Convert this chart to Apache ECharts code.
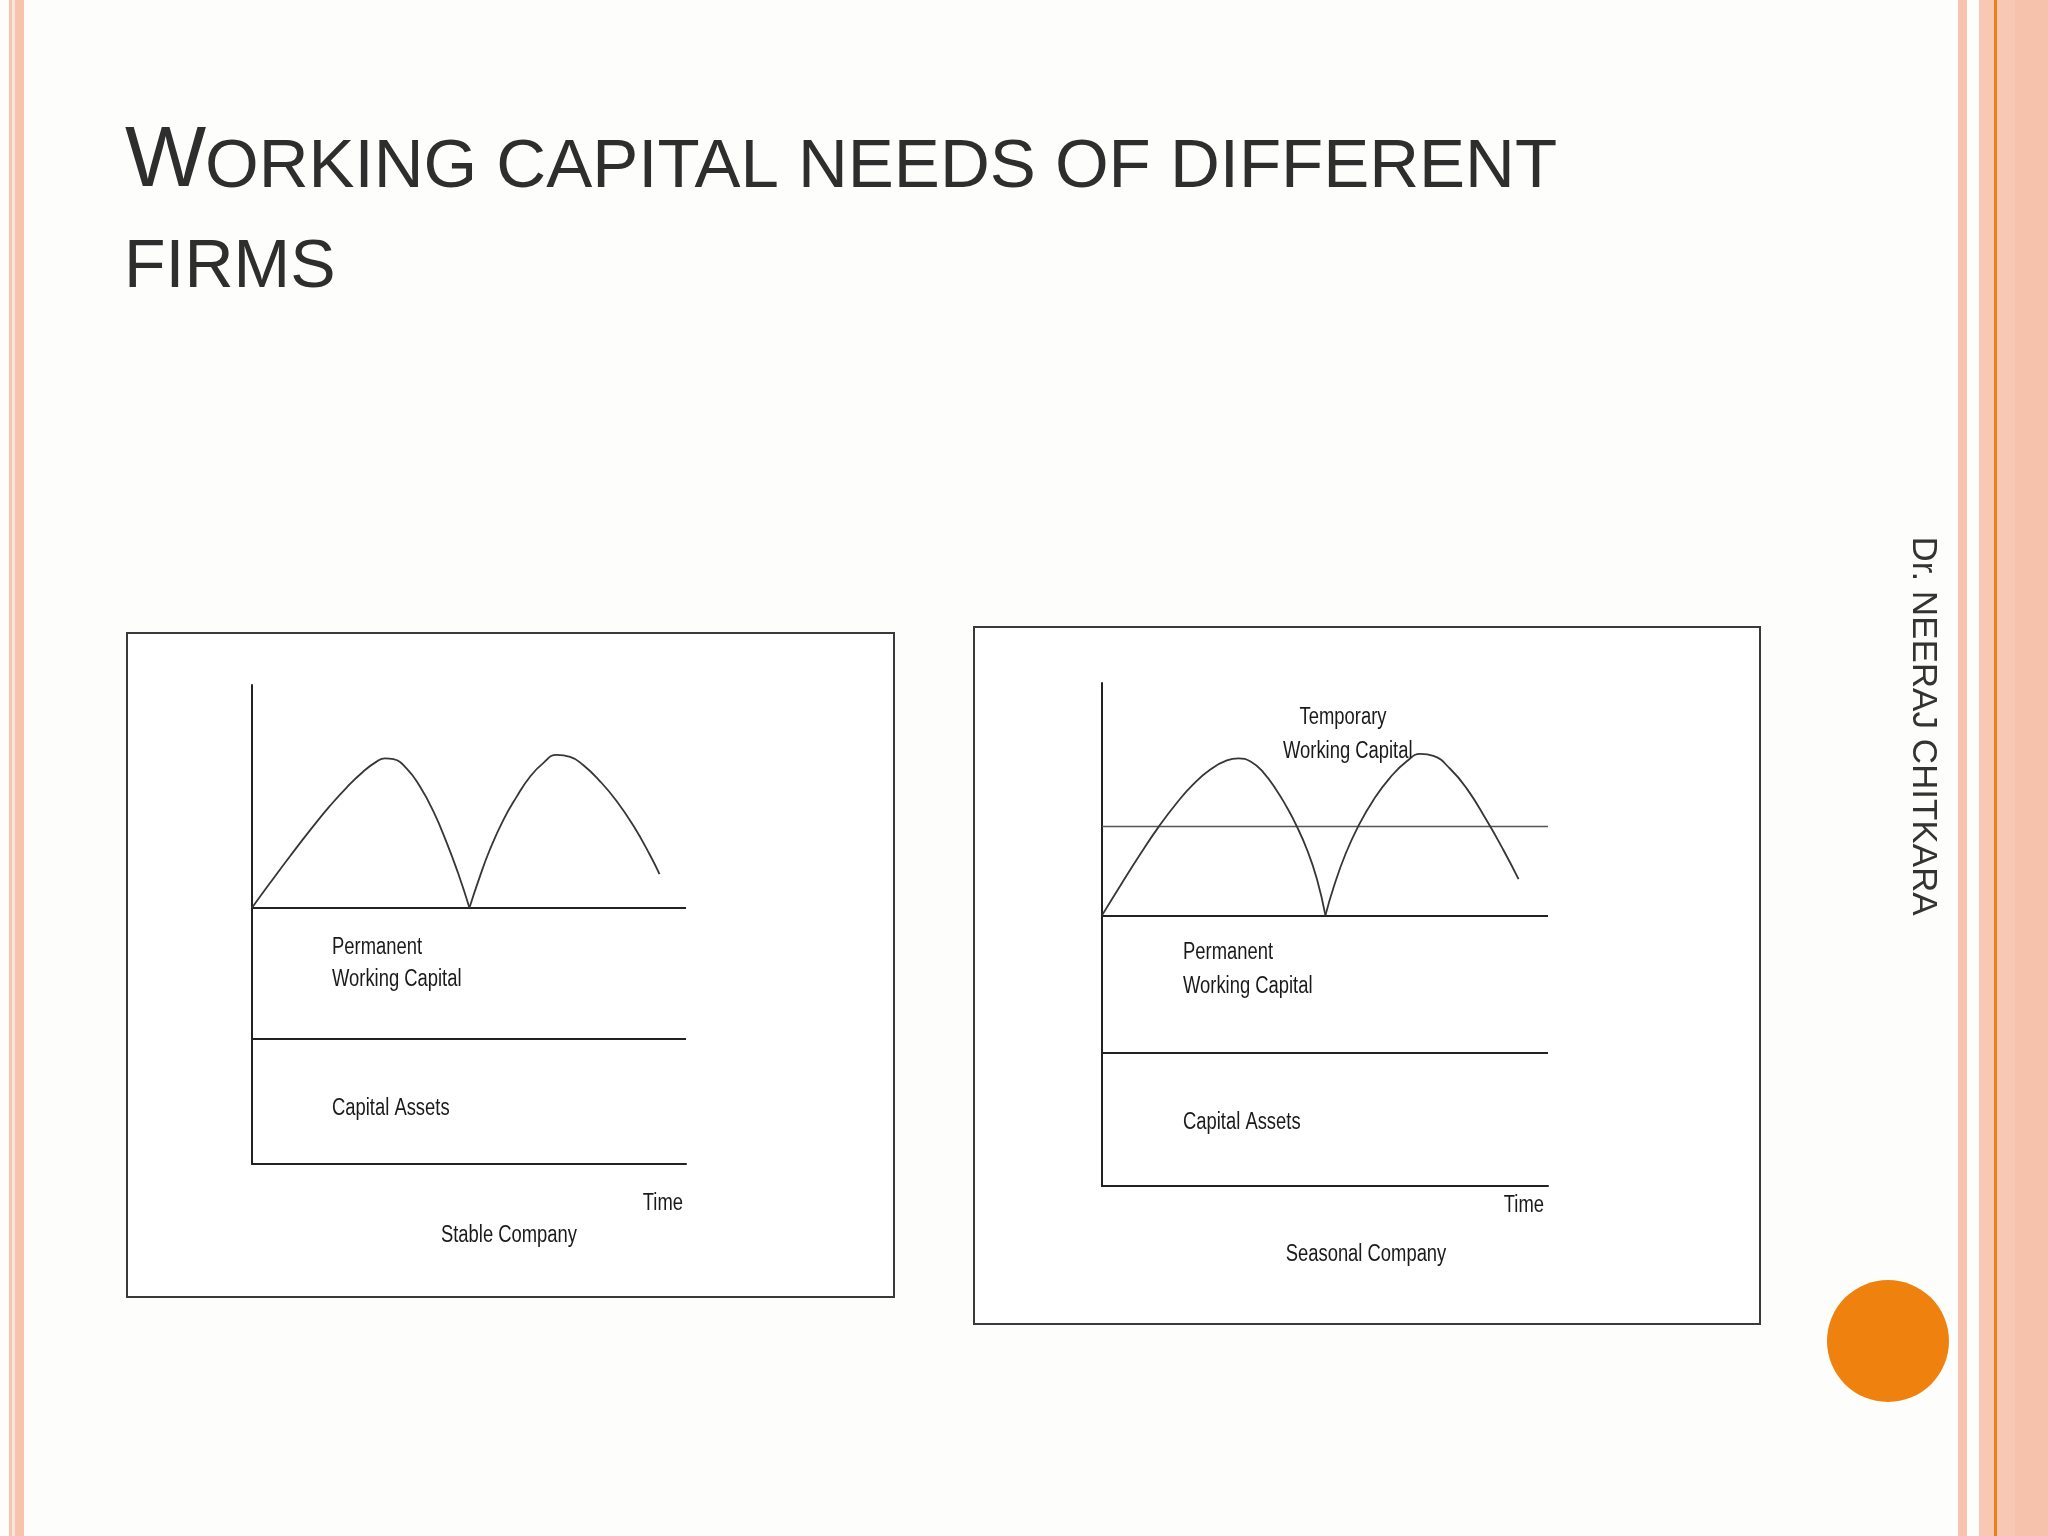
<!DOCTYPE html>
<html>
<head>
<meta charset="utf-8">
<script src="https://cdn.jsdelivr.net/npm/echarts@6/dist/echarts.min.js"></script>
<style>
html,body{margin:0;padding:0;background:#fdfdfb;}
#chart{width:2048px;height:1536px;}
</style>
</head>
<body>
<div id="chart"></div>
<script>
// ---- data (units: time 0-100, capital 0-100) ----
var stableArch1X = [0, 4.1, 8.8, 13.4, 18.0, 21.8, 25.6, 28.7, 30.6, 32.6, 35.6, 38.7, 41.8, 44.9, 47.5, 50.1];
var stableArch1Y = [53.5, 58.6, 64.3, 69.7, 74.8, 78.6, 81.9, 84.0, 84.7, 84.5, 82.6, 78.8, 73.6, 67.0, 60.7, 53.5];
var stableArch2X = [50.1, 52.5, 54.8, 57.9, 61.0, 64.1, 67.1, 70.2, 73.3, 76.3, 80.2, 84.0, 87.9, 91.7, 93.9];
var stableArch2Y = [53.5, 60.0, 65.6, 71.8, 76.7, 80.9, 83.7, 85.4, 85.0, 83.3, 79.9, 75.8, 70.6, 64.5, 60.5];
var stableLevels = [26.2, 53.5];

var seasonalArch1X = [0, 4.1, 8.6, 12.7, 16.8, 20.5, 24.3, 28.0, 30.6, 33.3, 36.2, 39.2, 41.5, 43.3, 46.0, 48.2, 50.1];
var seasonalArch1Y = [53.8, 59.7, 66.0, 71.4, 76.2, 79.9, 82.8, 84.6, 85.0, 84.4, 82.2, 78.6, 75.2, 72.2, 66.8, 61.0, 53.8];
var seasonalArch2X = [50.1, 51.9, 54.6, 57.5, 60.9, 64.6, 68.4, 71.4, 74.3, 78.1, 81.8, 86.3, 90.0, 93.4];
var seasonalArch2Y = [53.8, 59.3, 66.0, 71.6, 76.8, 81.2, 84.5, 85.9, 85.5, 82.9, 79.0, 72.6, 66.8, 61.0];
var seasonalLevels = [26.5, 53.8];
var seasonalTempLevel = [71.6];

var titleFirst = 'W';
var titleRest = 'ORKING CAPITAL NEEDS OF DIFFERENT';
var titleLine2 = 'FIRMS';
var sideText = 'Dr. NEERAJ CHITKARA';
var stableLabels = ['Permanent', 'Working Capital', 'Capital Assets', 'Time', 'Stable Company'];
var seasonalLabels = ['Temporary', 'Working Capital', 'Permanent', 'Working Capital', 'Capital Assets', 'Time', 'Seasonal Company'];

function zip(xs, ys) { return xs.map(function (x, i) { return [x, ys[i]]; }); }

var chart = echarts.init(document.getElementById('chart'));
var labelFont = '23px "Liberation Sans", Arial, sans-serif';
var axisLineStyle = { color: '#222', width: 2 };

function axisPair(idx) {
  return {
    x: { type: 'value', gridIndex: idx, min: 0, max: 100, z: 3, axisLine: { show: true, onZero: false, lineStyle: axisLineStyle }, axisTick: { show: false }, axisLabel: { show: false }, splitLine: { show: false } },
    y: { type: 'value', gridIndex: idx, min: 0, max: 100, z: 3, axisLine: { show: true, onZero: false, lineStyle: axisLineStyle }, axisTick: { show: false }, axisLabel: { show: false }, splitLine: { show: false } }
  };
}
var a0 = axisPair(0), a1 = axisPair(1);

function curve(idx, xs, ys) {
  return {
    type: 'line', xAxisIndex: idx, yAxisIndex: idx, data: zip(xs, ys), smooth: 0.5,
    showSymbol: false, symbol: 'none', lineStyle: { color: '#363636', width: 1.8 }, z: 5, silent: true
  };
}
function levels(idx, vals, color, width) {
  return {
    type: 'line', xAxisIndex: idx, yAxisIndex: idx, data: [], silent: true, z: 4,
    markLine: { silent: true, symbol: 'none', label: { show: false }, animation: false,
      lineStyle: { color: color, width: width, type: 'solid' },
      data: vals.map(function (v) { return { yAxis: v }; }) }
  };
}

function txt(t, x, y, align) {
  return { type: 'text', x: x, y: y, z: 20, scaleX: 0.8, style: { text: t, font: labelFont, fill: '#1a1a1a', align: align || 'left', verticalAlign: 'middle' } };
}

var graphics = [
  // slide background & decorative stripes
  { type: 'rect', shape: { x: 0, y: 0, width: 2048, height: 1536 }, style: { fill: '#fdfdfb' }, z: -10 },
  { type: 'rect', shape: { x: 9, y: 0, width: 3, height: 1536 }, style: { fill: '#f6c3ae' }, z: -9 },
  { type: 'rect', shape: { x: 12, y: 0, width: 3, height: 1536 }, style: { fill: '#fbe4da' }, z: -9 },
  { type: 'rect', shape: { x: 15, y: 0, width: 9, height: 1536 }, style: { fill: '#f7c3ad' }, z: -9 },
  { type: 'rect', shape: { x: 1958, y: 0, width: 9, height: 1536 }, style: { fill: '#f7c4b0' }, z: -9 },
  { type: 'rect', shape: { x: 1979, y: 0, width: 69, height: 1536 }, style: { fill: '#f8c8b4' }, z: -9 },
  { type: 'rect', shape: { x: 2015, y: 0, width: 33, height: 1536 }, style: { fill: '#f6c2ab' }, z: -8 },
  { type: 'rect', shape: { x: 1994, y: 0, width: 3, height: 1536 }, style: { fill: '#e9801c' }, z: -7 },
  { type: 'circle', shape: { cx: 1888, cy: 1341, r: 61 }, style: { fill: '#ef820f' }, z: -7 },
  // title
  { type: 'text', x: 125, y: 162, z: 20, style: { text: titleFirst, font: '86px "Liberation Sans", Arial, sans-serif', fill: '#2e2e2e', align: 'left', verticalAlign: 'middle' } },
  { type: 'text', x: 205, y: 168, z: 20, style: { text: titleRest, font: '69px "Liberation Sans", Arial, sans-serif', fill: '#2e2e2e', align: 'left', verticalAlign: 'middle' } },
  { type: 'text', x: 124, y: 268, z: 20, style: { text: titleLine2, font: '68px "Liberation Sans", Arial, sans-serif', fill: '#2e2e2e', align: 'left', verticalAlign: 'middle' } },
  // side text
  { type: 'text', x: 1923, y: 726, rotation: -Math.PI / 2, z: 20, style: { text: sideText, font: '35px "Liberation Sans", Arial, sans-serif', fill: '#333', align: 'center', verticalAlign: 'middle' } },
  // picture frames
  { type: 'rect', shape: { x: 127, y: 633, width: 767, height: 664 }, style: { fill: '#ffffff', stroke: '#3a3a3a', lineWidth: 2 }, z: -5 },
  { type: 'rect', shape: { x: 974, y: 627, width: 786, height: 697 }, style: { fill: '#ffffff', stroke: '#3a3a3a', lineWidth: 2 }, z: -5 },
  // stable company labels
  txt(stableLabels[0], 332, 948),
  txt(stableLabels[1], 332, 980),
  txt(stableLabels[2], 332, 1109),
  txt(stableLabels[3], 683, 1204, 'right'),
  txt(stableLabels[4], 509, 1236, 'center'),
  // seasonal company labels
  txt(seasonalLabels[0], 1343, 718, 'center'),
  txt(seasonalLabels[1], 1283, 752),
  txt(seasonalLabels[2], 1183, 953),
  txt(seasonalLabels[3], 1183, 987),
  txt(seasonalLabels[4], 1183, 1123),
  txt(seasonalLabels[5], 1544, 1206, 'right'),
  txt(seasonalLabels[6], 1366, 1255, 'center')
];

chart.setOption({
  animation: false,
  backgroundColor: 'transparent',
  grid: [
    { left: 252, top: 685, width: 434, height: 479, containLabel: false },
    { left: 1102, top: 683, width: 446, height: 503, containLabel: false }
  ],
  xAxis: [a0.x, a1.x],
  yAxis: [a0.y, a1.y],
  graphic: { elements: graphics },
  series: [
    curve(0, stableArch1X, stableArch1Y),
    curve(0, stableArch2X, stableArch2Y),
    levels(0, stableLevels, '#222', 2),
    curve(1, seasonalArch1X, seasonalArch1Y),
    curve(1, seasonalArch2X, seasonalArch2Y),
    levels(1, seasonalLevels, '#222', 2),
    levels(1, seasonalTempLevel, '#555', 1.4)
  ]
});
</script>
</body>
</html>
